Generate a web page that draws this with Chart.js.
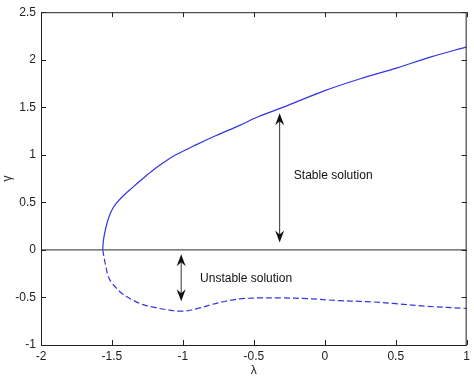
<!DOCTYPE html>
<html>
<head>
<meta charset="utf-8">
<script src="https://cdn.jsdelivr.net/npm/chart.js@4"></script>
<style>
  html, body { margin: 0; padding: 0; background: #fff; }
  #wrap { width: 474px; height: 378px; }
</style>
</head>
<body>
<div id="wrap"><canvas id="graph1"></canvas></div>
<script>
// stable branch (solid)
var stableLambda = [-1.565, -1.56, -1.545, -1.525, -1.5, -1.47, -1.42, -1.36, -1.29, -1.2, -1.12, -1.05, -0.9, -0.77, -0.6, -0.47, -0.26, 0, 0.25, 0.51, 0.75, 1.0];
var stableGamma  = [0, 0.1, 0.22, 0.33, 0.42, 0.49, 0.57, 0.65, 0.74, 0.85, 0.935, 1.0, 1.11, 1.2, 1.31, 1.4, 1.52, 1.675, 1.8, 1.915, 2.03, 2.135];

// unstable branch (dashed)
var unstableLambda = [-1.565, -1.545, -1.52, -1.47, -1.42, -1.35, -1.28, -1.2, -1.12, -1.0, -0.88, -0.8, -0.7, -0.6, -0.47, -0.3, -0.12, 0.11, 0.25, 0.35, 0.5, 0.72, 1.0];
var unstableGamma  = [0, -0.16, -0.3, -0.40, -0.47, -0.53, -0.575, -0.605, -0.627, -0.644, -0.61, -0.575, -0.54, -0.515, -0.505, -0.505, -0.513, -0.534, -0.541, -0.548, -0.565, -0.593, -0.615];

var xTicks = [-2, -1.5, -1, -0.5, 0, 0.5, 1];
var yTicks = [-1, -0.5, 0, 0.5, 1, 1.5, 2, 2.5];

// annotations: [lambda, gamma from, gamma to]
var stableArrow = [-0.318, 1.437, 0.077];
var unstableArrow = [-1.012, -0.046, -0.54];
var labels = [
    { text: "Stable solution", x: -0.218, y: 0.778 },
    { text: "Unstable solution", x: -0.879, y: -0.304 }
];

function toPoints(xs, ys) {
    return xs.map(function(x, i) { return { x: x, y: ys[i] }; });
}

var FONT = "'Liberation Sans', Arial, sans-serif";

function drawArrow(ctx, x, y1, y2) {
    ctx.save();
    ctx.strokeStyle = '#333';
    ctx.fillStyle = '#111';
    ctx.lineWidth = 1;
    ctx.beginPath();
    ctx.moveTo(x, y1 + 6);
    ctx.lineTo(x, y2 - 6);
    ctx.stroke();
    [[y1, 1], [y2, -1]].forEach(function(h) {
        var y = h[0], d = h[1];
        ctx.beginPath();
        ctx.moveTo(x, y);
        ctx.lineTo(x - 4.5, y + d * 12);
        ctx.lineTo(x, y + d * 8);
        ctx.lineTo(x + 4.5, y + d * 12);
        ctx.closePath();
        ctx.fill();
    });
    ctx.restore();
}

var boxPlugin = {
    id: 'box',
    afterDraw: function(chart) {
        var ctx = chart.ctx;
        var xs = chart.scales.x, ys = chart.scales.y;
        var a = chart.chartArea;
        ctx.save();
        ctx.strokeStyle = '#222';
        ctx.lineWidth = 1;
        ctx.strokeRect(a.left + 0.5, a.top + 0.5, a.right - a.left - 1, a.bottom - a.top);
        ctx.beginPath();
        xTicks.forEach(function(v) {
            var px = Math.round(xs.getPixelForValue(v)) + 0.5;
            ctx.moveTo(px, a.bottom); ctx.lineTo(px, a.bottom - 5);
            ctx.moveTo(px, a.top); ctx.lineTo(px, a.top + 5);
        });
        yTicks.forEach(function(v) {
            var py = Math.round(ys.getPixelForValue(v)) + 0.5;
            ctx.moveTo(a.left, py); ctx.lineTo(a.left + 5, py);
            ctx.moveTo(a.right, py); ctx.lineTo(a.right - 5, py);
        });
        ctx.stroke();

        drawArrow(ctx, xs.getPixelForValue(stableArrow[0]), ys.getPixelForValue(stableArrow[1]), ys.getPixelForValue(stableArrow[2]));
        drawArrow(ctx, xs.getPixelForValue(unstableArrow[0]), ys.getPixelForValue(unstableArrow[1]), ys.getPixelForValue(unstableArrow[2]));

        ctx.fillStyle = '#111';
        ctx.font = '12px ' + FONT;
        ctx.textBaseline = 'middle';
        ctx.textAlign = 'left';
        labels.forEach(function(l) {
            ctx.fillText(l.text, xs.getPixelForValue(l.x), ys.getPixelForValue(l.y));
        });
        ctx.restore();
    }
};

var ctx = document.getElementById('graph1').getContext('2d');

var data = {
    datasets: [
        {
            label: "zero",
            data: toPoints([-2, 1], [0, 0]),
            borderColor: '#555',
            borderWidth: 1.2,
            pointRadius: 0,
            showLine: true
        },
        {
            label: "stable",
            data: toPoints(stableLambda, stableGamma),
            borderColor: '#3434e6',
            borderWidth: 1.2,
            pointRadius: 0,
            showLine: true,
            tension: 0.35
        },
        {
            label: "unstable",
            data: toPoints(unstableLambda, unstableGamma),
            borderColor: '#3434e6',
            borderWidth: 1.2,
            borderDash: [6, 3],
            pointRadius: 0,
            showLine: true,
            tension: 0.35
        }
    ]
};

var options = {
    responsive: false,
    animation: false,
    layout: { padding: { top: 5, right: 2, left: 0, bottom: 0 } },
    plugins: { legend: { display: false }, tooltip: { enabled: false } },
    scales: {
        x: {
            type: 'linear', min: -2, max: 1,
            afterBuildTicks: function(s) { s.ticks = xTicks.map(function(v) { return { value: v }; }); },
            afterFit: function(s) { s.height = 33; },
            grid: { display: false, drawTicks: false },
            border: { display: false },
            ticks: { padding: 4, color: '#222', font: { size: 12, family: FONT }, callback: function(v) { return String(v); }, maxRotation: 0, autoSkip: false },
            title: { display: true, text: 'λ', color: '#222', font: { size: 12, family: FONT }, padding: 0 }
        },
        y: {
            type: 'linear', min: -1, max: 2.5,
            afterBuildTicks: function(s) { s.ticks = yTicks.map(function(v) { return { value: v }; }); },
            afterFit: function(s) { s.width = 41; },
            grid: { display: false, drawTicks: false },
            border: { display: false },
            ticks: { padding: 5, color: '#222', font: { size: 12, family: FONT }, callback: function(v) { return String(v); }, autoSkip: false },
            title: { display: true, text: 'γ', color: '#222', font: { size: 12, family: FONT }, padding: 0 }
        }
    }
};

var config = {
    type: 'scatter',
    data: data,
    options: options,
    plugins: [boxPlugin]
};

var canvas = document.getElementById('graph1');
canvas.width = 474;
canvas.height = 378;
var graph1 = new Chart(ctx, config);
</script>
</body>
</html>
